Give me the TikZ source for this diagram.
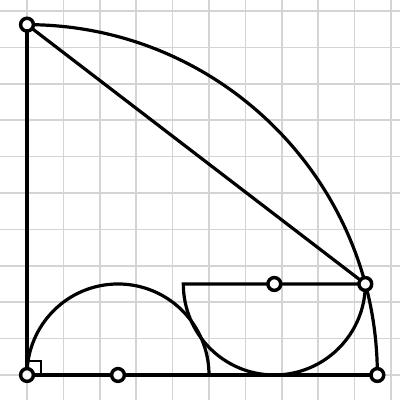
\documentclass[tikz,border=0pt]{standalone}
\usetikzlibrary{calc}
\begin{document}
\begin{tikzpicture}[x=0.5cm, y=0.5cm, line width=2.5pt,
  vertex/.style={circle, draw, fill=white, inner sep=0pt, minimum size=10pt, line width=2.7pt}]
  %Background grid
  \useasboundingbox (-1.484,-1.374) rectangle (20.495,20.604);
  \fill [white] (-1.484,-1.374) rectangle (20.495,20.604);
  \clip (-1.484,-1.374) rectangle (20.495,20.604);
  \draw [color=black!17, line width=1.3pt] (-2,-2) grid (21,21);
  % Points of the figure
  \coordinate (O) at (0,0);
  \coordinate (T) at (0,19.25);
  \coordinate (B) at (19.25,0);
  \coordinate (M) at (5,0);
  \coordinate (P) at ({sqrt(19.25*19.25-25)},5);
  \coordinate (C) at ($(P)+(-5,0)$);
  \coordinate (D) at ($(P)+(-10,0)$);
  % Quarter circle and its sides
  \draw (T) arc (90:0:19.25);
  \draw (O) -- (T);
  \draw (O) -- (B);
  \draw (T) -- (P);
  % Half circles
  \draw (O) arc (180:0:5);
  \draw (P) arc (0:-180:5) -- (P);
  \draw [line width=1.7pt] (0,0.75) -- (0.75,0.75) -- (0.75,0);
  \node at (O) [vertex, name=vO] {};
  \node at (T) [vertex, name=vT] {};
  \node at (B) [vertex, name=vB] {};
  \node at (M) [vertex, name=vM] {};
  \node at (P) [vertex, name=vP] {};
  \node at (C) [vertex, name=vC] {};
\end{tikzpicture}
\end{document}
